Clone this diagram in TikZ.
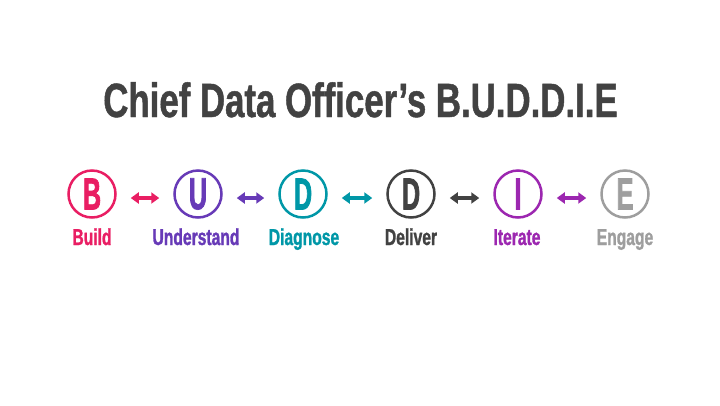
\documentclass[tikz,border=0pt]{standalone}
\usepackage{fontspec}
\usetikzlibrary{arrows.meta}
\newfontfamily\titlefont{Liberation Sans}[FakeStretch=0.725,FakeBold=1]
\newfontfamily\labelfont{Liberation Sans}[FakeStretch=0.68,FakeBold=1.2]
\newfontfamily\letterfont{Liberation Sans}[FakeStretch=0.56,FakeBold=1.5]
\definecolor{cpink}{HTML}{E91E63}
\definecolor{cdpurple}{HTML}{673AB7}
\definecolor{cteal}{HTML}{0097A7}
\definecolor{cdark}{HTML}{424242}
\definecolor{cpurple}{HTML}{9C27B0}
\definecolor{cgray}{HTML}{9E9E9E}
\tikzset{
  ring/.style={circle, draw=#1, text=#1, line width=2.5pt, minimum size=47pt, inner sep=0pt,
    font=\letterfont\bfseries\fontsize{45}{45}\selectfont},
  lbl/.style={anchor=base, text=#1, inner sep=0pt, font=\labelfont\bfseries\fontsize{23}{24}\selectfont},
  link/.style={draw=#1, line width=3.5pt, {Triangle[length=8pt,width=11pt]}-{Triangle[length=8pt,width=11pt]}, shorten >=14pt, shorten <=14pt}
}
\begin{document}
\begin{tikzpicture}[x=1pt,y=-1pt]
\useasboundingbox (0,0) rectangle (720,405);
\node[anchor=base, text=cdark, inner sep=0pt, font=\titlefont\bfseries\fontsize{48}{50}\selectfont] (title) at (360.5,117) {Chief Data Officer’s B.U.D.D.I.E};
\node[ring=cpink] (b) at (92,194) {B};
\node[ring=cdpurple] (u) at (198,194) {U};
\node[ring=cteal] (d1) at (303,194) {D};
\node[ring=cdark] (d2) at (411,194) {D};
\node[ring=cpurple] (i) at (518,194) {I};
\node[ring=cgray] (e) at (625,194) {E};
\node[lbl=cpink] (lb) at (92,245) {Build};
\node[lbl=cdpurple] (lu) at (196,245) {Understand};
\node[lbl=cteal] (ld1) at (304,245) {Diagnose};
\node[lbl=cdark] (ld2) at (411,245) {Deliver};
\node[lbl=cpurple] (li) at (517,245) {Iterate};
\node[lbl=cgray] (le) at (625,245) {Engage};
\draw[link=cpink] ([yshift=-4pt]b.east) -- ([yshift=-4pt]u.west);
\draw[link=cdpurple] ([yshift=-4pt]u.east) -- ([yshift=-4pt]d1.west);
\draw[link=cteal] ([yshift=-4pt]d1.east) -- ([yshift=-4pt]d2.west);
\draw[link=cdark] ([yshift=-4pt]d2.east) -- ([yshift=-4pt]i.west);
\draw[link=cpurple] ([yshift=-4pt]i.east) -- ([yshift=-4pt]e.west);
\end{tikzpicture}
\end{document}
